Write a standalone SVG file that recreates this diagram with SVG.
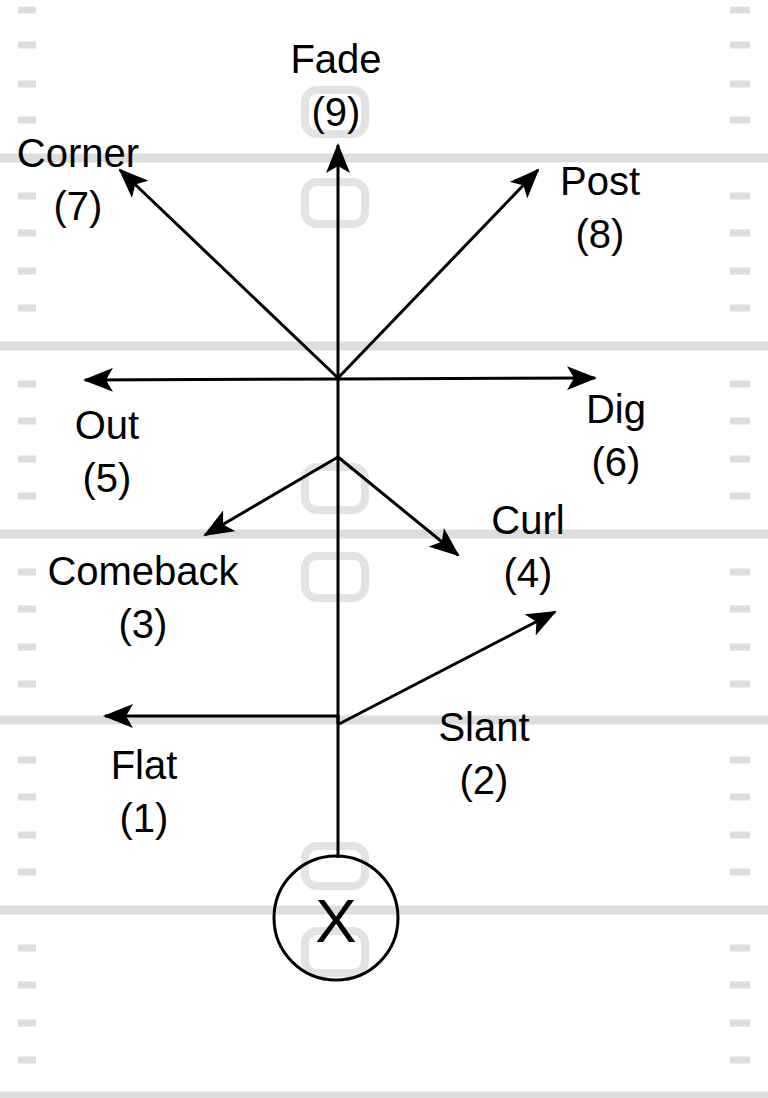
<svg xmlns="http://www.w3.org/2000/svg" width="768" height="1098" viewBox="0 0 768 1098">
<defs>
<style>
.fl{stroke:#dddddd;stroke-width:9}
.hs{stroke:#dddddd;stroke-width:7}
.ch{fill:none;stroke:#e3e3e3;stroke-width:8}
.rt{stroke:#000;stroke-width:3;fill:none}
.lb{font-family:"Liberation Sans",Arial,sans-serif;font-size:40px;fill:#000;text-anchor:middle}
</style>
<marker id="ah" viewBox="0 0 10 10" refX="9" refY="5" markerWidth="10" markerHeight="8" markerUnits="userSpaceOnUse" orient="auto" style="overflow:visible">
<path d="M0,0 L10,5 L0,10 Z" fill="#000" transform="scale(3)"/>
</marker>
<marker id="a" viewBox="0 0 30 24" refX="28" refY="12" markerWidth="30" markerHeight="24" markerUnits="userSpaceOnUse" orient="auto">
<path d="M0,0 L30,12 L0,24 L7,12 Z" fill="#000"/>
</marker>
</defs>
<rect width="768" height="1098" fill="#fff"/>
<g id="field">
<line class="fl" x1="0" y1="158" x2="768" y2="158"/>
<line class="fl" x1="0" y1="346" x2="768" y2="346"/>
<line class="fl" x1="0" y1="534" x2="768" y2="534"/>
<line class="fl" x1="0" y1="720" x2="768" y2="720"/>
<line class="fl" x1="0" y1="910" x2="768" y2="910"/>
<line class="fl" x1="0" y1="1096" x2="768" y2="1096"/>
<g id="hashes">
<path class="hs" d="M18,10h18M18,45h18M18,84h18M18,120h18M18,196h18M18,233h18M18,271h18M18,308h18M18,384h18M18,421h18M18,459h18M18,496h18M18,572h18M18,609h18M18,647h18M18,684h18M18,760h18M18,797h18M18,835h18M18,872h18M18,948h18M18,985h18M18,1023h18M18,1060h18"/>
<path class="hs" d="M730,10h20M730,45h20M730,84h20M730,120h20M730,196h20M730,233h20M730,271h20M730,308h20M730,384h20M730,421h20M730,459h20M730,496h20M730,572h20M730,609h20M730,647h20M730,684h20M730,760h20M730,797h20M730,835h20M730,872h20M730,948h20M730,985h20M730,1023h20M730,1060h20"/>
</g>
<rect class="ch" x="305" y="90" width="60" height="44" rx="12"/>
<rect class="ch" x="305" y="182" width="60" height="42" rx="12"/>
<rect class="ch" x="305" y="467" width="60" height="43" rx="12"/>
<rect class="ch" x="305" y="556" width="60" height="42" rx="12"/>
<rect class="ch" x="305" y="846" width="60" height="40" rx="12"/>
<rect class="ch" x="305" y="931" width="60" height="42" rx="12"/>
</g>
<g id="connectors">
<line class="rt" x1="338" y1="858" x2="338" y2="145" marker-end="url(#a)"/>
<line class="rt" x1="338" y1="378" x2="120" y2="170" marker-end="url(#a)"/>
<line class="rt" x1="338" y1="378" x2="538" y2="170" marker-end="url(#a)"/>
<line class="rt" x1="338" y1="379" x2="85" y2="380" marker-end="url(#a)"/>
<line class="rt" x1="338" y1="379" x2="595" y2="378" marker-end="url(#a)"/>
<line class="rt" x1="338" y1="457" x2="205" y2="535" marker-end="url(#a)"/>
<line class="rt" x1="338" y1="457" x2="458" y2="555" marker-end="url(#a)"/>
<polyline class="rt" points="338,724 338,716 105,716" marker-end="url(#a)"/>
<line class="rt" x1="339" y1="724" x2="555" y2="612" marker-end="url(#a)"/>
</g>
<g id="player">
<circle cx="336" cy="918" r="62" fill="none" stroke="#000" stroke-width="3"/>
<text class="lb" x="336" y="942" style="font-size:62px">X</text>
</g>
<g id="labels">
<g id="fade"><text class="lb" x="336" y="73">Fade</text><text class="lb" x="336" y="126">(9)</text></g>
<g id="corner"><text class="lb" x="78" y="167">Corner</text><text class="lb" x="78" y="220">(7)</text></g>
<g id="post"><text class="lb" x="600" y="195">Post</text><text class="lb" x="600" y="248">(8)</text></g>
<g id="out"><text class="lb" x="107" y="439">Out</text><text class="lb" x="107" y="492">(5)</text></g>
<g id="dig"><text class="lb" x="616" y="423">Dig</text><text class="lb" x="616" y="476">(6)</text></g>
<g id="comeback"><text class="lb" x="143" y="585">Comeback</text><text class="lb" x="143" y="638">(3)</text></g>
<g id="curl"><text class="lb" x="528" y="534">Curl</text><text class="lb" x="528" y="587">(4)</text></g>
<g id="flat"><text class="lb" x="144" y="779">Flat</text><text class="lb" x="144" y="832">(1)</text></g>
<g id="slant"><text class="lb" x="484" y="741">Slant</text><text class="lb" x="484" y="794">(2)</text></g>
</g>
</svg>
